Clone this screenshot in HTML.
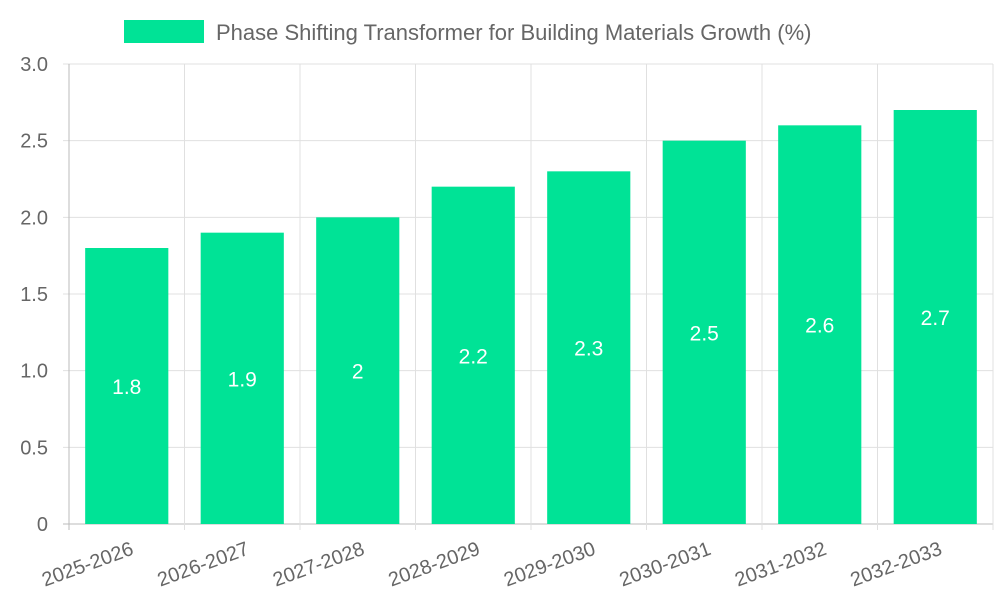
<!DOCTYPE html>
<html><head><meta charset="utf-8"><style>
body{margin:0;background:#fff;}
svg{font-family:"Liberation Sans",sans-serif;}
</style></head><body>
<svg width="1000" height="600">
<g id="g"></g>
</svg>
<script>
const categories=["2025-2026","2026-2027","2027-2028","2028-2029","2029-2030","2030-2031","2031-2032","2032-2033"];
const values=[1.8,1.9,2,2.2,2.3,2.5,2.6,2.7];
const yTicks=[0,0.5,1.0,1.5,2.0,2.5,3.0];
const yTickLabels=["0","0.5","1.0","1.5","2.0","2.5","3.0"];
const seriesName="Phase Shifting Transformer for Building Materials Growth (%)";
const L=69,R=993,T=64,B=524,yMax=3;
const g=document.getElementById('g');
const ns="http://www.w3.org/2000/svg";
function y(v){return B-(v/yMax)*(B-T);}
const cw=(R-L)/categories.length;
function x(i){return L+i*cw;}
function mk(tag,attrs,name){const e=document.createElementNS(ns,tag);for(const k in attrs)e.setAttribute(k,attrs[k]);


g.appendChild(e);return e;}
// grid
yTicks.forEach((t,i)=>{
mk('line',{x1:L-6,x2:R,y1:y(t),y2:y(t),stroke:i==0?'#bbb':'#e0e0e0','stroke-width':1},'y-gridline');
const tx=mk('text',{x:48,y:y(t)+7,'text-anchor':'end','font-size':20,fill:'#666'},'y-tick-label');tx.textContent=yTickLabels[i];
});
for(let i=0;i<=categories.length;i++){
mk('line',{x1:x(i),x2:x(i),y1:T,y2:B+6,stroke:i==0?'#bbb':'#e0e0e0','stroke-width':1},'x-gridline');
}
values.forEach((v,i)=>{
const bw=cw*0.72,bx=x(i)+(cw-bw)/2;
mk('rect',{x:bx,y:y(v),width:bw,height:B-y(v),fill:'#00E396'},'bar-'+categories[i]);
const t=mk('text',{x:bx+bw/2,y:(y(v)+B)/2+8,'text-anchor':'middle','font-size':21,fill:'#fff'},'bar-value-label');t.textContent=String(v);
const cx=x(i)+cw/2;
const xl=mk('text',{x:cx+8,y:B+30,'text-anchor':'end','font-size':20,fill:'#666',transform:`rotate(-20 ${cx+8} ${B+30})`},'x-tick-label');xl.textContent=categories[i];
});
mk('rect',{x:124,y:20,width:80,height:23,fill:'#00E396'},'legend-swatch');
const lt=mk('text',{x:216,y:40,'font-size':22,fill:'#666'},'legend-label');lt.textContent=seriesName;
</script>
</body></html>
